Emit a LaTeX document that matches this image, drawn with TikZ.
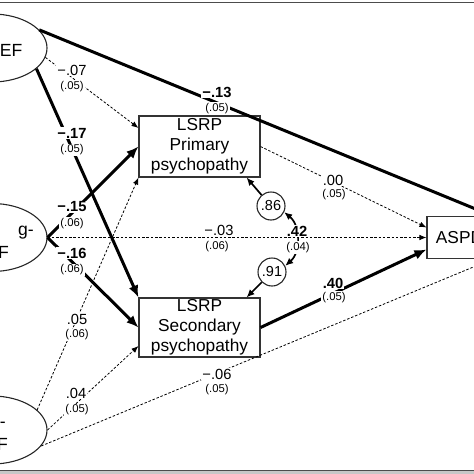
\documentclass[tikz,border=0pt]{standalone}
\usepackage{fontspec}
\setmainfont{Liberation Sans}
\usetikzlibrary{arrows.meta,shapes.geometric}
\begin{document}
\begin{tikzpicture}[x=1pt,y=-1pt,
  box/.style={draw=black!80, line width=1.1pt, inner sep=0pt, align=center, font=\fontsize{17.3}{20}\selectfont},
  lat/.style={draw=black!85, line width=1.1pt, ellipse, minimum width=110pt, minimum height=68pt, inner sep=0pt},
  res/.style={draw=black!85, line width=1.1pt, circle, minimum size=28pt, inner sep=0pt, font=\fontsize{14.5}{16}\selectfont},
  thickarr/.style={line width=3pt, -{Latex[length=12pt,width=10pt]}},
  thinarr/.style={line width=0.8pt, dash pattern=on 2.5pt off 1.8pt, -{Latex[length=7pt,width=5.5pt]}},
  midarr/.style={line width=1.7pt, -{Latex[length=8pt,width=7pt]}},
  val/.style={fill=white, inner sep=1pt, font=\fontsize{14.7}{16}\selectfont},
  bval/.style={fill=white, inner sep=1pt, font=\fontsize{14.7}{16}\selectfont\bfseries},
  se/.style={fill=white, inner sep=1pt, font=\fontsize{11.3}{13}\selectfont},
  ltx/.style={font=\fontsize{17.6}{20}\selectfont, inner sep=0pt}
]
\useasboundingbox (0,0) rectangle (474,474);
% frame
\fill[black!22] (0,471) rectangle (474,474);
\draw[black!70, line width=1.3pt] (0,470.3) -- (474,470.3);
\draw[black!70, line width=1.3pt] (0,2.7) -- (474,2.7);
% latent ellipses
\node[lat] (E1) at (-8,48) {};
\node[lat] (E2) at (-8,237.5) {};
\node[lat] (E3) at (-8,430) {};
\node[ltx, anchor=base east] (t1) at (22.5,56) {EF};
\node[ltx, anchor=base east] (t2a) at (34,235) {g-};
\node[ltx, anchor=base east] (t2b) at (9,258) {F};
\node[ltx, anchor=base east] (t3a) at (6,427) {-};
\node[ltx, anchor=base east] (t3b) at (8,450) {F};
% observed boxes
\node[box, minimum width=121pt, minimum height=61pt] (P) at (199.5,146.5) {LSRP\\Primary\\psychopathy};
\node[box, minimum width=121pt, minimum height=59pt] (S) at (199.5,327.5) {LSRP\\Secondary\\psychopathy};
\node[box, minimum width=65pt, minimum height=42pt] (A) at (459.5,237.5) {ASPD};
% residual circles
\node[res] (c86) at (271,206) {.86};
\node[res] (c91) at (272,272) {.91};
% paths
\draw[thickarr] (E1.21) -- (A.north east);
\draw[thinarr] (E1.-10) -- ([yshift=18.5pt]P.west);
\draw[thickarr] (E1.-25) -- (S.north west);
\draw[thickarr] (E2.east) -- (P.west);
\draw[thickarr] (E2.east) -- (S.west);
\draw[thinarr] (E2.east) -- (A.west);
\draw[thinarr] (P.east) -- ([yshift=10pt]A.west);
\draw[thickarr] (S.east) -- ([yshift=-12pt]A.west);
\draw[thinarr] (E3.-18) -- (A.south east);
\draw[thinarr] (E3.24) -- (P.south west);
\draw[thinarr] (E3.east) -- ([yshift=-18.5pt]S.west);
\draw[midarr] (c86) -- ([xshift=-14pt]P.south east);
\draw[midarr] (c91) -- ([xshift=-14pt]S.north east);
\draw[line width=1.7pt, {Latex[length=8pt,width=7pt]}-{Latex[length=8pt,width=7pt]}] (c86.-25) to[bend left=50] (c91.25);
% labels
\node[val] (l1) at (72,70) {−.07};
\node[se] (l1s) at (72,86.5) {(.05)};
\node[bval] (l2) at (217,92) {−.13};
\node[se] (l2s) at (217,108.5) {(.05)};
\node[bval] (l3) at (72,133) {−.17};
\node[se] (l3s) at (72,150) {(.05)};
\node[bval] (l4) at (72,207) {−.15};
\node[se] (l4s) at (72,223.5) {(.06)};
\node[bval] (l5) at (72,253) {−.16};
\node[se] (l5s) at (72,270) {(.06)};
\node[val] (l6) at (219,230) {−.03};
\node[se] (l6s) at (217,247) {(.06)};
\node[val] (l7) at (333,180) {.00};
\node[se] (l7s) at (334,195) {(.05)};
\node[bval] (l8) at (297,231) {.42};
\node[se] (l8s) at (298,247.5) {(.04)};
\node[bval] (l9) at (333,283) {.40};
\node[se] (l9s) at (334,297.5) {(.05)};
\node[val] (l10) at (77,319) {.05};
\node[se] (l10s) at (77,335) {(.06)};
\node[val] (l11) at (76,393) {.04};
\node[se] (l11s) at (77,410) {(.05)};
\node[val] (l12) at (217,374) {−.06};
\node[se] (l12s) at (217,389.5) {(.05)};
\end{tikzpicture}
\end{document}
